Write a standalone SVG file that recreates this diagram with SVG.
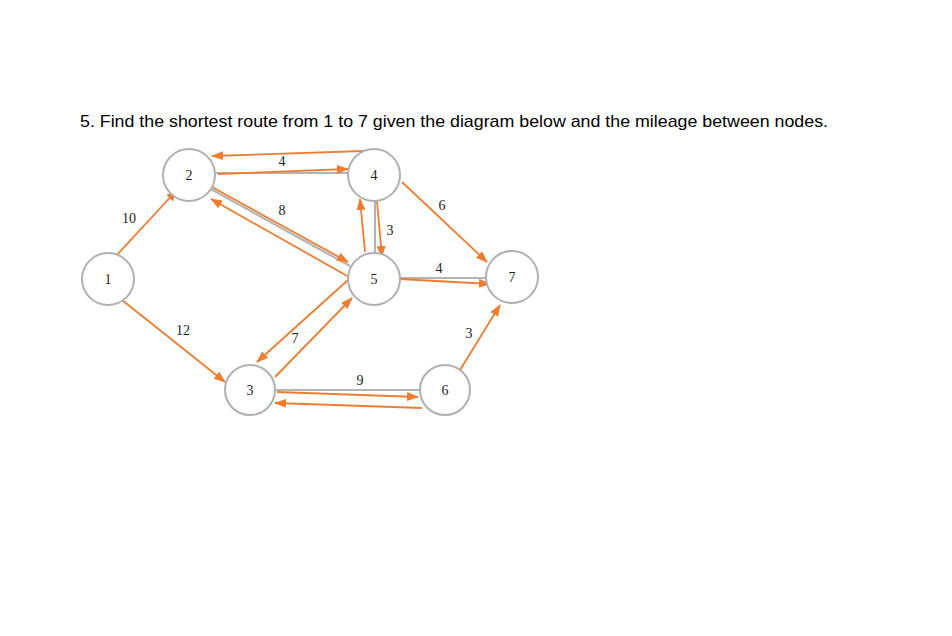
<svg xmlns="http://www.w3.org/2000/svg" width="952" height="636" viewBox="0 0 952 636">
<defs>
<marker id="ah" markerUnits="userSpaceOnUse" markerWidth="12" markerHeight="10" refX="11" refY="4.5" orient="auto">
<path d="M0,0 L12,4.5 L0,9 z" fill="#ED7D31"/>
</marker>
<style>
.g{stroke:#b4b4b4;stroke-width:2.2;fill:none}
.o{stroke:#ED7D31;stroke-width:1.8;fill:none;marker-end:url(#ah)}
.n{fill:#fff;stroke:#b0b0b0;stroke-width:2}
.nt{font-family:"Liberation Serif","Times New Roman",serif;font-size:14px;fill:#222;text-anchor:middle}
.lt{font-family:"Liberation Serif","Times New Roman",serif;font-size:14px;fill:#222;text-anchor:middle}
.title{font-family:"Liberation Sans",Arial,sans-serif;font-size:17px;fill:#000}
</style>
</defs>
<rect width="952" height="636" fill="#fff"/>
<text class="title" x="80" y="127" textLength="748" lengthAdjust="spacingAndGlyphs">5. Find the shortest route from 1 to 7 given the diagram below and the mileage between nodes.</text>
<g id="connectors">
<line class="g" x1="189" y1="173" x2="374" y2="173"/>
<line class="g" x1="189" y1="177" x2="350" y2="266"/>
<line class="g" x1="375" y1="175" x2="375" y2="279"/>
<line class="g" x1="374" y1="278" x2="512" y2="278"/>
<line class="g" x1="250" y1="390" x2="445" y2="390"/>
<line class="o" x1="115" y1="257" x2="177" y2="190"/>
<line class="o" x1="363" y1="151" x2="212" y2="156"/>
<line class="o" x1="218" y1="174" x2="348" y2="169"/>
<line class="o" x1="212" y1="187" x2="348" y2="262"/>
<line class="o" x1="349" y1="277" x2="211" y2="199"/>
<line class="o" x1="377" y1="201" x2="382" y2="257"/>
<line class="o" x1="365" y1="252" x2="360" y2="199"/>
<line class="o" x1="402" y1="182" x2="487" y2="262"/>
<line class="o" x1="400" y1="279" x2="490" y2="284"/>
<line class="o" x1="122" y1="300" x2="225" y2="382"/>
<line class="o" x1="348" y1="280" x2="257" y2="362"/>
<line class="o" x1="275" y1="377" x2="352" y2="298"/>
<line class="o" x1="277" y1="392" x2="418" y2="397"/>
<line class="o" x1="422" y1="408" x2="275" y2="403"/>
<line class="o" x1="460" y1="370" x2="500" y2="305"/>
<text class="lt" x="129" y="223">10</text>
<text class="lt" x="282" y="166">4</text>
<text class="lt" x="282" y="215">8</text>
<text class="lt" x="390" y="235">3</text>
<text class="lt" x="442" y="210">6</text>
<text class="lt" x="439" y="273">4</text>
<text class="lt" x="183" y="335">12</text>
<text class="lt" x="295" y="343">7</text>
<text class="lt" x="360" y="385">9</text>
<text class="lt" x="469" y="338">3</text>
</g>
<g id="node1"><circle class="n" cx="108" cy="279" r="26"/><text class="nt" x="108" y="284">1</text></g>
<g id="node2"><circle class="n" cx="189" cy="175" r="26"/><text class="nt" x="189" y="180">2</text></g>
<g id="node3"><circle class="n" cx="250" cy="390" r="25"/><text class="nt" x="250" y="395">3</text></g>
<g id="node4"><circle class="n" cx="374" cy="175" r="26"/><text class="nt" x="374" y="180">4</text></g>
<g id="node5"><circle class="n" cx="374" cy="279" r="26"/><text class="nt" x="374" y="284">5</text></g>
<g id="node6"><circle class="n" cx="445" cy="390" r="25"/><text class="nt" x="445" y="395">6</text></g>
<g id="node7"><circle class="n" cx="512" cy="277" r="26"/><text class="nt" x="512" y="282">7</text></g>
</svg>
